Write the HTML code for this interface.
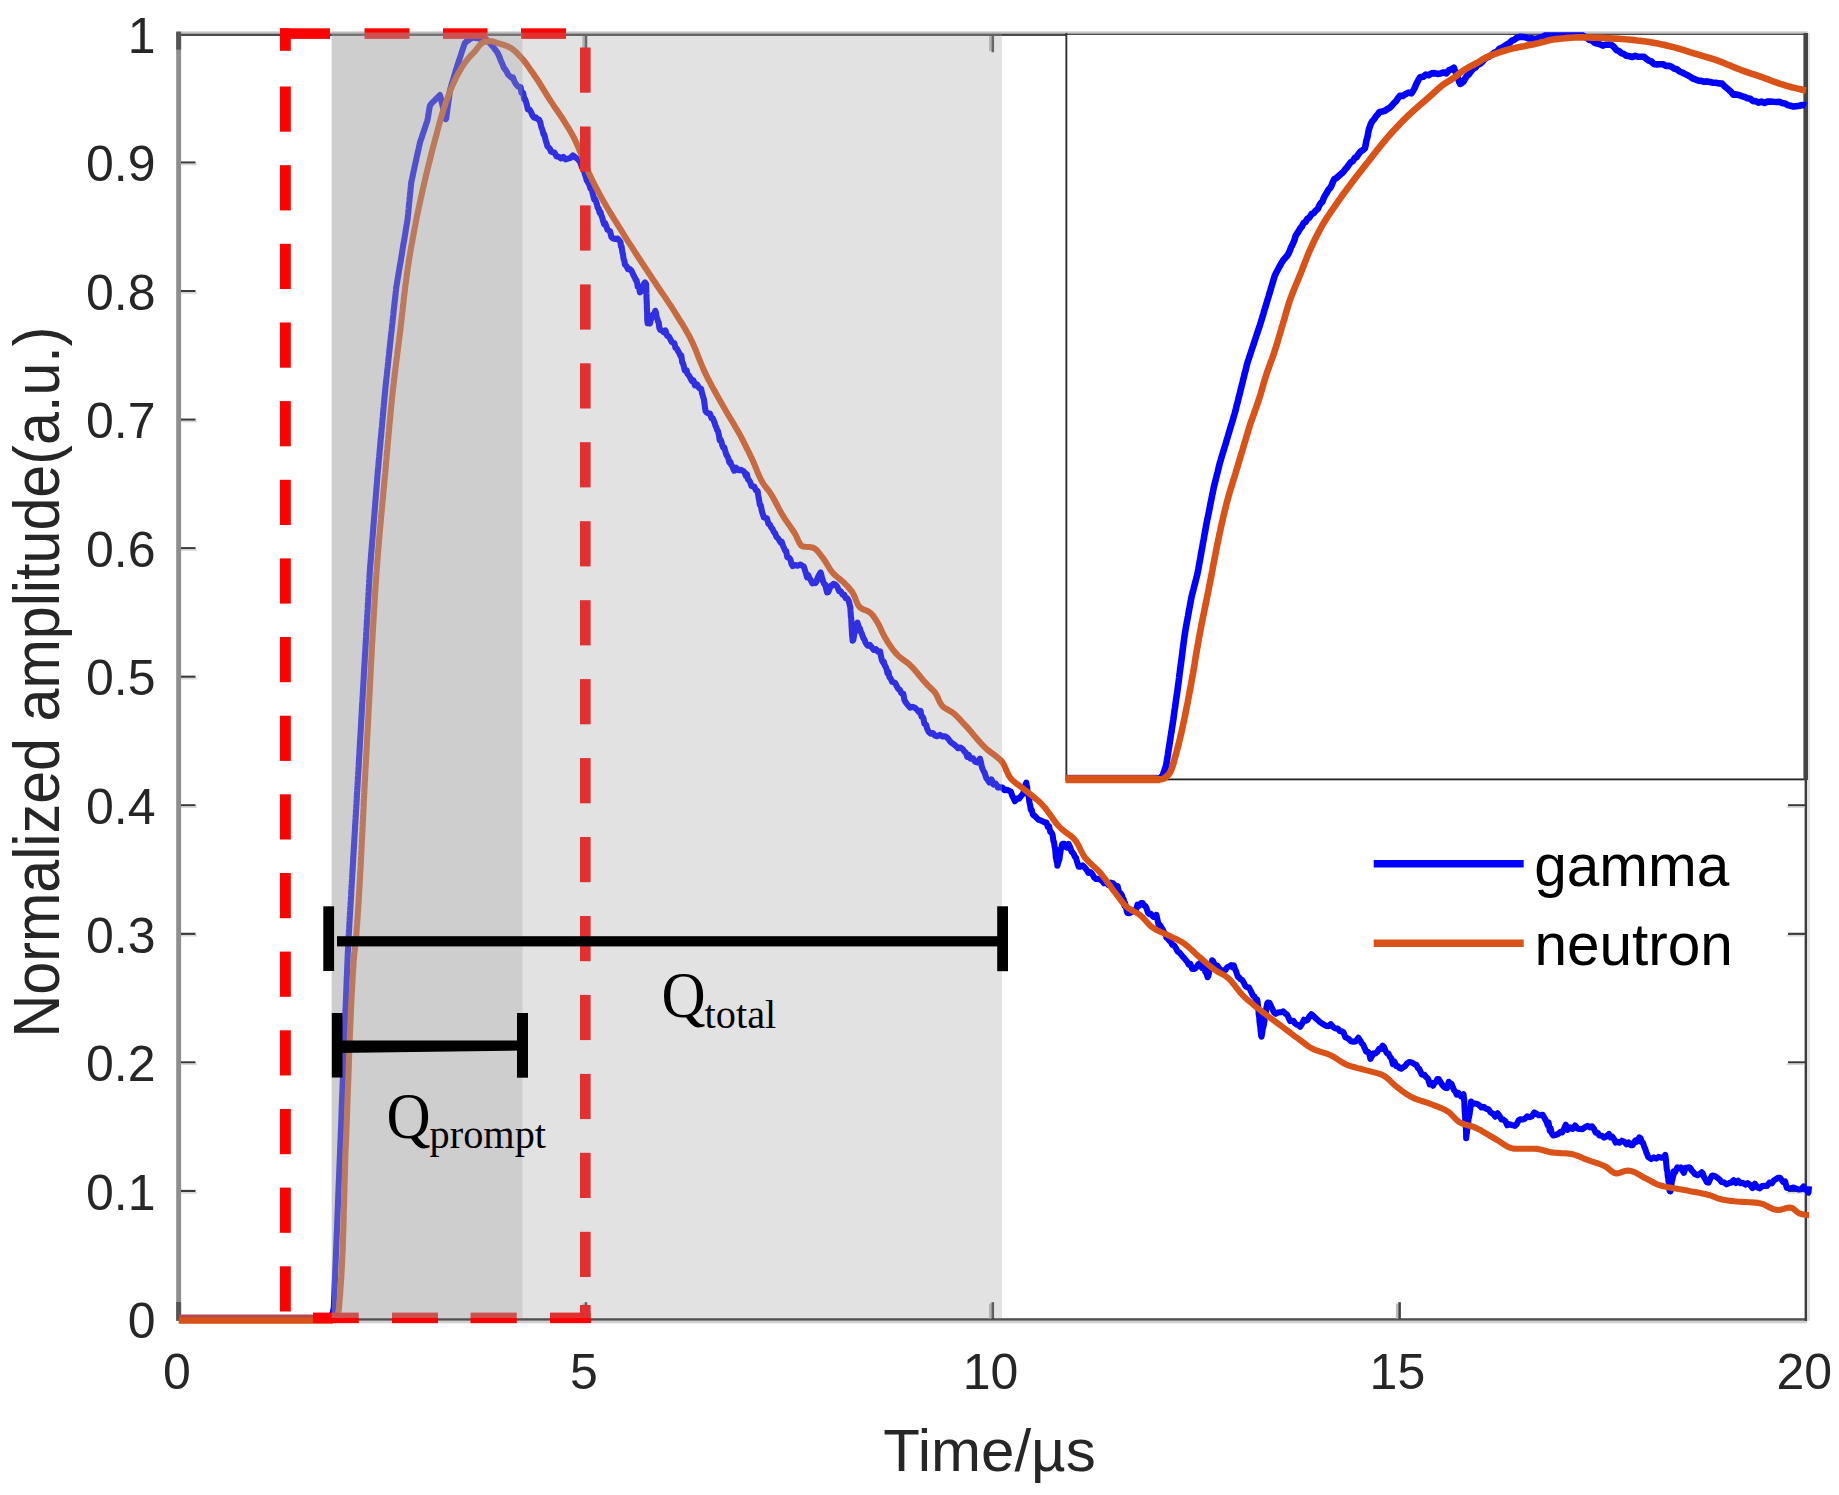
<!DOCTYPE html>
<html lang="en"><head><meta charset="utf-8"><title>Pulse shapes</title>
<style>html,body{margin:0;padding:0;background:#fff;}svg{display:block;}</style></head>
<body>
<svg width="1839" height="1495" viewBox="0 0 1839 1495">
<rect x="0" y="0" width="1839" height="1495" fill="#ffffff"/>
<g id="axes">
<rect x="176.25" y="31.4" width="1631.25" height="2.5" fill="#c6c6c6"/>
<rect x="176.25" y="33.7" width="1631.25" height="2.3" fill="#4a4a4a"/>
<rect x="176.2" y="33" width="4.9" height="1287.70" fill="#8e8e8e"/>
<rect x="176.2" y="31.6" width="4.9" height="18" fill="#555555"/>
<rect x="176.2" y="1302" width="4.9" height="18.8" fill="#555555"/>
<rect x="178.75" y="1318.2" width="1628.45" height="2.6" fill="#505050"/>
<rect x="178.75" y="1320.8" width="1628.45" height="2.5" fill="#d0d0d0"/>
<rect x="1804.60" y="33" width="2.6" height="1287.90" fill="#3c3c3c"/>
<rect x="1807.20" y="33" width="2.6" height="1287.90" fill="#e2e2e2"/>
<rect x="181" y="1189.85" width="14.5" height="2.2" fill="#3a3a3a"/>
<rect x="181" y="1192.05" width="16" height="1.6" fill="#d8d8d8"/>
<rect x="1788.00" y="1189.85" width="17" height="2.2" fill="#3a3a3a"/>
<rect x="1786.50" y="1192.05" width="18" height="1.6" fill="#d8d8d8"/>
<rect x="181" y="1061.30" width="14.5" height="2.2" fill="#3a3a3a"/>
<rect x="181" y="1063.50" width="16" height="1.6" fill="#d8d8d8"/>
<rect x="1788.00" y="1061.30" width="17" height="2.2" fill="#3a3a3a"/>
<rect x="1786.50" y="1063.50" width="18" height="1.6" fill="#d8d8d8"/>
<rect x="181" y="932.75" width="14.5" height="2.2" fill="#3a3a3a"/>
<rect x="181" y="934.95" width="16" height="1.6" fill="#d8d8d8"/>
<rect x="1788.00" y="932.75" width="17" height="2.2" fill="#3a3a3a"/>
<rect x="1786.50" y="934.95" width="18" height="1.6" fill="#d8d8d8"/>
<rect x="181" y="804.20" width="14.5" height="2.2" fill="#3a3a3a"/>
<rect x="181" y="806.40" width="16" height="1.6" fill="#d8d8d8"/>
<rect x="1788.00" y="804.20" width="17" height="2.2" fill="#3a3a3a"/>
<rect x="1786.50" y="806.40" width="18" height="1.6" fill="#d8d8d8"/>
<rect x="181" y="675.65" width="14.5" height="2.2" fill="#3a3a3a"/>
<rect x="181" y="677.85" width="16" height="1.6" fill="#d8d8d8"/>
<rect x="181" y="547.10" width="14.5" height="2.2" fill="#3a3a3a"/>
<rect x="181" y="549.30" width="16" height="1.6" fill="#d8d8d8"/>
<rect x="181" y="418.55" width="14.5" height="2.2" fill="#3a3a3a"/>
<rect x="181" y="420.75" width="16" height="1.6" fill="#d8d8d8"/>
<rect x="181" y="290.00" width="14.5" height="2.2" fill="#3a3a3a"/>
<rect x="181" y="292.20" width="16" height="1.6" fill="#d8d8d8"/>
<rect x="181" y="161.45" width="14.5" height="2.2" fill="#3a3a3a"/>
<rect x="181" y="163.65" width="16" height="1.6" fill="#d8d8d8"/>
<rect x="582.26" y="1303.50" width="2.4" height="15" fill="#bdbdbd"/>
<rect x="584.66" y="1302.20" width="2.6" height="17" fill="#444"/>
<rect x="582.26" y="36" width="2.4" height="15" fill="#bdbdbd"/>
<rect x="584.66" y="36" width="2.6" height="16.3" fill="#505050"/>
<rect x="989.07" y="1303.50" width="2.4" height="15" fill="#bdbdbd"/>
<rect x="991.48" y="1302.20" width="2.6" height="17" fill="#444"/>
<rect x="989.07" y="36" width="2.4" height="15" fill="#bdbdbd"/>
<rect x="991.48" y="36" width="2.6" height="16.3" fill="#505050"/>
<rect x="1395.89" y="1303.50" width="2.4" height="15" fill="#bdbdbd"/>
<rect x="1398.29" y="1302.20" width="2.6" height="17" fill="#444"/>
</g>
<g font-family="'Liberation Sans', Arial, sans-serif" font-size="50" fill="#262626">
<text x="155.5" y="1338.1" text-anchor="end">0</text>
<text x="155.5" y="1209.5" text-anchor="end">0.1</text>
<text x="155.5" y="1081.0" text-anchor="end">0.2</text>
<text x="155.5" y="952.5" text-anchor="end">0.3</text>
<text x="155.5" y="823.9" text-anchor="end">0.4</text>
<text x="155.5" y="695.4" text-anchor="end">0.5</text>
<text x="155.5" y="566.8" text-anchor="end">0.6</text>
<text x="155.5" y="438.3" text-anchor="end">0.7</text>
<text x="155.5" y="309.7" text-anchor="end">0.8</text>
<text x="155.5" y="181.1" text-anchor="end">0.9</text>
<text x="155.5" y="52.6" text-anchor="end">1</text>
<text x="176.9" y="1388.8" text-anchor="middle">0</text>
<text x="583.8" y="1388.8" text-anchor="middle">5</text>
<text x="990.6" y="1388.8" text-anchor="middle">10</text>
<text x="1397.4" y="1388.8" text-anchor="middle">15</text>
<text x="1804.2" y="1388.8" text-anchor="middle">20</text>
</g>
<text font-family="'Liberation Sans', Arial, sans-serif" font-size="60" fill="#262626" x="989.5" y="1470.6" text-anchor="middle">Time/µs</text>
<text font-family="'Liberation Sans', Arial, sans-serif" font-size="59" fill="#262626" transform="translate(58.7 682.0) rotate(-90) scale(1.004 1.10)" text-anchor="middle">Normalized amplitude(a.u.)</text>
<path d="M179 1317.6 L330 1317.6" stroke="#b24850" stroke-width="6.1" fill="none"/>
<path d="M328.0 1318.0 L330.2 1316.9 L331.7 1315.0 L332.7 1312.7 L333.3 1310.3 L333.8 1307.8 L333.9 1305.4 L334.0 1302.9 L334.1 1300.4 L334.2 1297.9 L334.3 1295.4 L334.4 1292.9 L334.5 1290.4 L334.6 1287.9 L334.7 1285.4 L334.8 1282.9 L334.9 1280.4 L335.0 1277.9 L335.1 1275.4 L335.2 1272.9 L335.3 1270.4 L335.4 1267.9 L335.5 1265.4 L335.6 1262.9 L335.7 1260.4 L335.8 1257.9 L335.9 1255.4 L336.0 1252.9 L336.1 1250.4 L336.2 1247.9 L336.3 1245.4 L336.4 1242.9 L336.5 1240.4 L336.6 1237.9 L336.7 1235.4 L336.8 1232.9 L336.9 1230.4 L337.0 1227.9 L337.1 1225.4 L337.2 1222.9 L337.3 1220.4 L337.4 1217.9 L337.5 1215.4 L337.6 1212.9 L337.7 1210.4 L337.8 1207.9 L337.9 1205.4 L338.0 1202.9 L338.1 1200.4 L338.2 1197.9 L338.3 1195.4 L338.4 1192.9 L338.5 1190.4 L338.6 1187.9 L338.7 1185.4 L338.8 1182.9 L338.9 1180.5 L339.0 1178.0 L339.1 1175.5 L339.2 1173.0 L339.3 1170.5 L339.4 1168.0 L339.5 1165.5 L339.6 1163.0 L339.7 1160.5 L339.8 1158.0 L339.9 1155.5 L340.0 1153.0 L340.1 1150.5 L340.2 1148.0 L340.3 1145.5 L340.4 1143.0 L340.5 1140.5 L340.6 1138.0 L340.7 1135.5 L340.8 1133.0 L340.9 1130.5 L341.0 1128.0 L341.1 1125.5 L341.2 1123.0 L341.3 1120.5 L341.4 1118.0 L341.5 1115.5 L341.5 1113.0 L341.6 1110.5 L341.7 1108.0 L341.8 1105.5 L341.9 1103.0 L342.0 1100.5 L342.1 1098.0 L342.2 1095.5 L342.3 1093.0 L342.4 1090.5 L342.5 1088.0 L342.6 1085.5 L342.7 1083.0 L342.8 1080.5 L342.9 1078.0 L343.0 1075.5 L343.1 1073.0 L343.2 1070.5 L343.3 1068.0 L343.4 1065.5 L343.5 1063.0 L343.6 1060.5 L343.7 1058.0 L343.8 1055.5 L343.9 1053.0 L344.0 1050.6 L344.1 1048.1 L344.2 1045.6 L344.3 1043.1 L344.4 1040.6 L344.5 1038.1 L344.6 1035.6 L344.7 1033.1 L344.8 1030.6 L344.9 1028.1 L345.0 1025.6 L345.0 1023.1 L345.1 1020.6 L345.2 1018.1 L345.3 1015.6 L345.4 1013.1 L345.5 1010.6 L345.6 1008.1 L345.7 1005.6 L345.8 1003.1 L345.9 1000.6 L346.0 998.1 L346.1 995.6 L346.2 993.1 L346.3 990.6 L346.4 988.1 L346.5 985.6 L346.6 983.1 L346.7 980.6 L346.8 978.1 L346.9 975.6 L347.0 973.1 L347.1 970.6 L347.2 968.1 L347.3 965.6 L347.4 963.1 L347.5 960.6 L347.6 958.1 L347.7 955.6 L347.8 953.1 L348.0 950.6 L348.1 948.1 L348.2 945.6 L348.3 943.1 L348.5 940.6 L348.6 938.1 L348.7 935.7 L348.9 933.2 L349.0 930.7 L349.2 928.2 L349.3 925.7 L349.4 923.2 L349.6 920.7 L349.7 918.2 L349.9 915.7 L350.0 913.2 L350.2 910.7 L350.3 908.2 L350.5 905.7 L350.6 903.2 L350.8 900.7 L350.9 898.2 L351.1 895.7 L351.2 893.2 L351.3 890.7 L351.5 888.2 L351.6 885.7 L351.8 883.2 L351.9 880.7 L352.1 878.2 L352.2 875.8 L352.4 873.3 L352.5 870.8 L352.7 868.3 L352.8 865.8 L353.0 863.3 L353.1 860.8 L353.2 858.3 L353.4 855.8 L353.5 853.3 L353.7 850.8 L353.8 848.3 L354.0 845.8 L354.1 843.3 L354.3 840.8 L354.4 838.3 L354.6 835.8 L354.7 833.3 L354.9 830.8 L355.0 828.3 L355.1 825.8 L355.3 823.3 L355.4 820.8 L355.6 818.4 L355.7 815.9 L355.9 813.4 L356.0 810.9 L356.2 808.4 L356.3 805.9 L356.5 803.4 L356.6 800.9 L356.8 798.4 L356.9 795.9 L357.0 793.4 L357.2 790.9 L357.3 788.4 L357.5 785.9 L357.6 783.4 L357.8 780.9 L357.9 778.4 L358.1 775.9 L358.2 773.4 L358.4 770.9 L358.5 768.4 L358.7 765.9 L358.8 763.4 L358.9 760.9 L359.1 758.5 L359.2 756.0 L359.4 753.5 L359.5 751.0 L359.7 748.5 L359.8 746.0 L359.9 743.5 L360.1 741.0 L360.2 738.5 L360.4 736.0 L360.5 733.5 L360.7 731.0 L360.8 728.5 L360.9 726.0 L361.1 723.5 L361.2 721.0 L361.4 718.5 L361.5 716.0 L361.7 713.5 L361.8 711.0 L361.9 708.5 L362.1 706.0 L362.2 703.5 L362.4 701.0 L362.5 698.6 L362.7 696.1 L362.8 693.6 L362.9 691.1 L363.1 688.6 L363.2 686.1 L363.4 683.6 L363.5 681.1 L363.7 678.6 L363.8 676.1 L363.9 673.6 L364.1 671.1 L364.2 668.6 L364.4 666.1 L364.5 663.6 L364.7 661.1 L364.8 658.6 L364.9 656.1 L365.1 653.6 L365.2 651.1 L365.4 648.6 L365.5 646.1 L365.7 643.6 L365.8 641.1 L365.9 638.6 L366.1 636.2 L366.2 633.7 L366.4 631.2 L366.5 628.7 L366.7 626.2 L366.8 623.7 L366.9 621.2 L367.1 618.7 L367.2 616.2 L367.4 613.7 L367.5 611.2 L367.7 608.7 L367.8 606.2 L367.9 603.7 L368.1 601.2 L368.2 598.7 L368.4 596.2 L368.5 593.7 L368.7 591.2 L368.8 588.7 L368.9 586.2 L369.1 583.7 L369.2 581.2 L369.4 578.7 L369.5 576.3 L369.7 573.8 L369.8 571.3 L370.0 568.8 L370.2 566.3 L370.4 563.8 L370.6 561.3 L370.8 558.8 L371.0 556.3 L371.2 553.8 L371.4 551.3 L371.6 548.8 L371.8 546.3 L372.0 543.8 L372.2 541.4 L372.4 538.9 L372.6 536.4 L372.8 533.9 L373.0 531.4 L373.2 528.9 L373.4 526.4 L373.6 523.9 L373.8 521.4 L374.0 518.9 L374.2 516.4 L374.4 513.9 L374.6 511.5 L374.8 509.0 L375.0 506.5 L375.2 504.0 L375.4 501.5 L375.6 499.0 L375.8 496.5 L376.0 494.0 L376.2 491.5 L376.4 489.0 L376.6 486.5 L376.8 484.0 L377.0 481.5 L377.2 479.1 L377.4 476.6 L377.6 474.1 L377.8 471.6 L378.0 469.1 L378.3 466.6 L378.5 464.1 L378.7 461.6 L378.9 459.1 L379.2 456.6 L379.4 454.2 L379.6 451.7 L379.8 449.2 L380.1 446.7 L380.3 444.2 L380.5 441.7 L380.7 439.2 L381.0 436.7 L381.2 434.2 L381.4 431.7 L381.6 429.3 L381.9 426.8 L382.1 424.3 L382.3 421.8 L382.5 419.3 L382.8 416.8 L383.0 414.3 L383.2 411.8 L383.4 409.3 L383.7 406.8 L383.9 404.4 L384.1 401.9 L384.3 399.4 L384.6 396.9 L384.8 394.4 L385.0 391.9 L385.3 389.4 L385.5 386.9 L385.8 384.4 L386.1 382.0 L386.3 379.5 L386.6 377.0 L386.9 374.5 L387.1 372.0 L387.4 369.5 L387.7 367.0 L387.9 364.6 L388.2 362.1 L388.4 359.6 L388.7 357.1 L389.0 354.6 L389.2 352.1 L389.5 349.6 L389.8 347.2 L390.0 344.7 L390.3 342.2 L390.6 339.7 L390.8 337.2 L391.1 334.7 L391.4 332.2 L391.7 329.8 L391.9 327.3 L392.2 324.8 L392.5 322.3 L392.7 319.8 L393.0 317.3 L393.3 314.8 L393.5 312.4 L393.8 309.9 L394.1 307.4 L394.4 304.9 L394.6 302.4 L394.9 299.9 L395.2 297.5 L395.4 295.0 L395.7 292.5 L396.0 290.0 L396.2 287.5 L396.7 285.0 L397.1 282.6 L397.5 280.1 L397.9 277.6 L398.3 275.2 L398.7 272.7 L399.1 270.2 L399.5 267.8 L399.9 265.3 L400.4 262.8 L400.8 260.4 L401.2 257.9 L401.6 255.5 L402.0 253.0 L402.4 250.5 L402.8 248.1 L403.2 245.6 L403.6 243.1 L404.1 240.7 L404.5 238.2 L404.9 235.7 L405.3 233.3 L405.7 230.8 L406.1 228.3 L406.5 225.9 L406.9 223.4 L407.3 220.9 L407.7 218.4 L407.9 216.0 L408.2 213.5 L408.4 211.0 L408.7 208.5 L408.9 206.0 L409.1 203.5 L409.4 201.0 L409.6 198.5 L409.9 196.1 L410.1 193.6 L410.4 191.1 L410.6 188.6 L410.9 186.1 L411.1 183.6 L411.5 181.2 L412.1 178.7 L412.6 176.3 L413.1 173.8 L413.6 171.4 L414.2 168.9 L414.7 166.5 L415.2 164.0 L415.8 161.6 L416.3 159.2 L416.8 156.7 L417.4 154.3 L417.9 151.8 L418.5 149.4 L419.0 147.0 L419.6 144.5 L420.1 142.1 L420.9 139.7 L421.7 137.4 L422.5 135.0 L423.3 132.6 L424.1 130.2 L424.9 127.9 L425.7 125.5 L426.5 123.1 L427.3 120.7 L427.8 118.3 L428.2 115.8 L428.6 113.4 L429.0 110.9 L429.4 108.4 L429.8 106.0 L431.1 103.9 L432.8 102.2 L434.6 100.4 L436.4 98.6 L438.1 96.9 L439.9 95.1 L440.6 97.3 L441.1 99.7 L441.7 102.2 L442.3 104.6 L442.9 107.0 L443.5 109.5 L444.1 111.9 L444.6 114.3 L445.2 116.7 L445.8 119.2 L446.2 118.4 L446.5 115.9 L446.9 113.4 L447.2 110.9 L447.5 108.5 L447.9 106.0 L448.2 103.5 L448.5 101.0 L448.9 98.5 L449.2 96.1 L449.5 93.6 L449.9 91.1 L450.4 88.7 L451.1 86.3 L451.8 83.9 L452.6 81.5 L453.3 79.1 L454.0 76.7 L454.7 74.3 L455.4 71.9 L456.1 69.5 L456.9 67.1 L457.6 64.7 L458.4 62.4 L459.2 60.0 L460.0 57.6 L460.8 55.2 L461.5 52.9 L462.3 50.5 L463.1 48.1 L463.9 45.8 L464.7 43.4 L466.3 41.6 L468.4 40.2 L470.5 38.9 L472.6 37.5 L475.0 37.9 L477.5 38.3 L480.0 38.7 L482.4 39.2 L484.9 39.6 L487.3 40.0 L489.0 41.8 L490.5 43.8 L492.1 45.7 L493.7 47.7 L495.2 49.6 L496.8 51.6 L498.0 53.7 L499.0 56.0 L500.0 58.3 L501.0 61.2 L502.0 63.2 L503.0 65.6 L503.9 68.0 L504.9 69.0 L506.5 71.4 L508.1 74.5 L509.8 76.1 L511.4 77.7 L513.0 77.4 L514.6 81.9 L516.3 84.7 L517.9 86.3 L519.5 87.2 L520.6 87.1 L521.5 92.7 L522.4 93.6 L523.2 92.9 L524.1 99.0 L525.0 98.9 L525.9 101.5 L526.8 104.7 L527.8 109.5 L529.4 109.2 L531.0 112.0 L532.6 115.8 L534.2 117.6 L535.8 117.3 L537.4 119.0 L539.0 119.6 L540.3 122.4 L541.1 126.2 L541.9 128.6 L542.6 130.6 L543.4 134.1 L544.2 134.2 L545.0 137.5 L545.8 140.9 L546.6 143.1 L547.4 146.1 L548.6 147.4 L549.8 148.6 L551.0 151.7 L552.3 152.1 L554.4 152.5 L556.6 156.5 L558.8 156.8 L561.1 158.4 L563.3 156.9 L565.6 159.4 L568.0 158.6 L570.5 157.8 L572.9 155.5 L575.4 157.5 L577.7 159.0 L578.8 160.5 L579.9 161.5 L581.0 164.5 L582.1 167.7 L583.1 165.5 L584.0 171.2 L585.0 174.4 L585.9 176.9 L586.8 180.5 L587.8 182.1 L588.7 183.4 L589.6 185.7 L590.5 188.6 L591.5 189.2 L592.4 192.2 L593.3 195.8 L594.2 199.5 L595.1 199.1 L596.0 201.5 L596.9 204.2 L597.8 208.0 L598.7 208.6 L599.6 212.8 L600.5 212.0 L601.4 215.4 L602.3 217.7 L603.2 221.3 L604.1 224.0 L605.0 223.0 L606.2 225.9 L607.5 229.7 L608.8 230.5 L610.1 231.5 L611.4 237.0 L612.8 238.3 L615.2 239.0 L617.6 238.6 L619.9 241.3 L620.5 242.1 L621.0 246.3 L621.5 246.1 L621.9 248.6 L622.4 252.5 L622.9 253.7 L623.4 258.0 L623.9 259.9 L624.4 260.8 L624.9 264.5 L626.4 265.9 L628.1 269.3 L629.9 269.1 L631.7 271.1 L633.4 275.0 L635.1 278.2 L635.8 280.3 L636.5 280.2 L637.1 282.8 L637.8 286.9 L638.5 287.1 L639.2 288.4 L639.9 292.3 L641.1 291.3 L642.4 287.5 L643.7 284.3 L644.9 282.4 L646.0 283.8 L646.1 284.4 L646.2 287.8 L646.3 290.7 L646.4 293.7 L646.5 295.0 L646.5 298.6 L646.6 299.3 L646.7 302.5 L646.8 304.1 L646.9 309.4 L647.0 310.4 L647.1 312.0 L647.2 315.0 L647.2 317.6 L647.3 321.3 L647.4 320.8 L647.7 323.3 L648.8 321.9 L649.9 323.5 L651.0 319.2 L652.2 315.5 L653.3 314.4 L654.4 313.9 L655.3 310.8 L656.0 313.0 L656.7 317.5 L657.4 319.0 L658.1 321.6 L658.7 322.5 L659.4 328.0 L660.3 330.0 L662.0 330.4 L663.8 332.3 L665.5 330.6 L667.2 335.9 L668.9 336.6 L670.5 339.4 L671.7 341.9 L673.0 342.7 L674.3 343.1 L675.5 347.9 L676.8 348.6 L678.1 351.3 L679.3 353.1 L680.4 355.7 L681.3 355.5 L682.2 362.4 L683.1 363.5 L683.9 366.9 L684.8 370.4 L685.7 370.2 L686.6 370.2 L687.4 373.7 L688.9 375.3 L690.4 378.2 L691.9 381.0 L693.4 380.3 L694.9 385.3 L697.0 384.3 L699.1 388.0 L701.1 388.9 L701.6 391.1 L702.2 393.8 L702.8 395.6 L703.4 398.0 L703.9 399.0 L704.5 403.6 L705.1 408.5 L705.6 411.1 L706.6 412.4 L708.3 413.5 L709.9 413.6 L711.5 418.3 L712.9 418.4 L713.7 420.7 L714.6 422.8 L715.4 425.6 L716.3 427.3 L717.1 430.1 L718.0 431.2 L718.8 434.4 L719.7 440.2 L720.5 439.5 L721.4 441.6 L722.2 445.0 L723.2 447.5 L724.2 447.4 L725.2 450.9 L726.3 454.7 L727.3 456.1 L728.3 458.2 L729.3 462.3 L730.3 461.7 L731.3 465.0 L732.4 466.5 L734.2 470.7 L736.2 467.7 L738.4 470.2 L740.8 469.9 L743.3 471.0 L744.7 472.6 L745.8 475.9 L746.9 474.2 L748.0 479.5 L749.1 480.4 L750.2 482.1 L751.4 485.9 L752.5 486.3 L754.2 486.5 L756.0 490.5 L757.6 490.9 L758.1 494.5 L758.7 498.2 L759.2 500.6 L759.8 504.7 L760.3 504.8 L760.8 505.5 L761.4 509.0 L761.9 511.2 L762.5 513.3 L763.9 517.4 L765.4 518.0 L766.9 518.3 L768.4 523.8 L769.9 524.7 L771.2 527.4 L772.6 529.2 L773.9 532.0 L775.2 533.4 L776.5 537.1 L777.9 538.1 L779.2 540.2 L780.5 542.4 L781.8 542.0 L783.0 545.9 L784.1 548.1 L785.2 550.9 L786.2 551.1 L787.3 557.3 L788.4 557.6 L789.4 558.1 L790.5 559.7 L791.5 563.9 L792.8 566.1 L795.2 565.0 L797.7 565.7 L800.2 564.5 L802.6 565.9 L803.7 566.5 L804.8 569.6 L805.9 573.1 L807.1 577.5 L808.2 575.0 L809.3 578.0 L810.6 579.6 L812.4 583.4 L814.2 582.7 L815.5 583.1 L816.6 581.4 L817.6 577.9 L818.6 575.7 L819.6 574.0 L820.6 572.4 L821.5 575.6 L822.4 579.3 L823.4 582.3 L824.3 584.2 L825.2 584.5 L826.1 588.5 L827.1 592.5 L828.2 592.1 L829.4 589.1 L830.6 585.8 L831.9 585.6 L833.5 583.8 L835.4 584.6 L837.3 586.7 L839.2 591.2 L840.9 591.5 L842.5 594.6 L844.1 594.5 L845.6 598.2 L847.2 598.2 L848.7 600.7 L850.0 606.2 L850.2 606.5 L850.4 607.3 L850.5 610.4 L850.7 613.4 L850.9 617.0 L851.0 617.3 L851.2 618.2 L851.4 622.6 L851.5 625.5 L851.7 628.1 L851.9 632.1 L852.0 633.3 L852.2 636.5 L852.4 636.5 L852.6 640.7 L853.3 639.9 L854.0 635.8 L854.7 632.7 L855.4 630.2 L856.0 629.9 L856.7 624.0 L857.4 622.6 L858.3 625.2 L859.2 627.9 L860.0 628.7 L860.9 632.0 L861.8 633.6 L862.7 636.4 L863.5 638.4 L864.4 639.5 L865.7 643.0 L867.7 645.6 L869.7 644.8 L871.7 647.2 L873.7 649.9 L875.8 649.0 L878.0 651.7 L880.1 651.4 L881.0 656.5 L882.0 660.4 L882.9 662.3 L883.8 661.7 L884.7 665.3 L885.7 666.8 L886.6 669.1 L887.5 673.3 L888.5 671.9 L889.4 677.3 L890.5 678.1 L892.1 681.9 L893.6 682.3 L895.2 683.1 L896.8 686.3 L898.3 688.9 L899.9 689.9 L901.0 692.7 L902.2 693.6 L903.3 693.8 L904.4 700.0 L905.5 701.9 L906.6 703.5 L908.0 705.3 L910.2 707.7 L912.5 706.9 L914.7 707.7 L916.9 709.5 L919.2 712.4 L920.6 710.9 L921.5 716.6 L922.4 716.5 L923.4 718.2 L924.3 723.6 L925.2 724.2 L926.2 725.0 L927.1 728.5 L928.7 732.0 L930.7 733.7 L932.8 733.0 L934.9 735.5 L937.4 736.2 L939.8 734.8 L942.3 736.4 L944.8 736.2 L946.6 737.2 L948.4 739.0 L950.2 741.5 L951.9 743.2 L953.7 744.2 L955.6 745.8 L958.1 748.2 L960.6 747.5 L962.8 749.1 L964.3 751.5 L965.8 752.7 L967.3 756.9 L968.8 754.9 L970.5 758.7 L972.9 758.2 L975.2 761.9 L977.5 762.5 L979.9 758.7 L980.9 762.2 L981.8 766.6 L982.7 769.1 L983.7 771.4 L984.6 772.6 L985.5 775.6 L986.4 778.2 L987.4 779.6 L989.4 782.5 L991.5 779.5 L993.6 784.5 L995.8 783.6 L997.9 787.5 L1000.1 787.2 L1002.3 787.5 L1004.6 790.3 L1006.8 789.7 L1009.0 790.8 L1010.8 791.6 L1012.2 795.7 L1013.6 798.5 L1014.9 801.2 L1017.0 798.5 L1019.1 798.6 L1021.2 795.9 L1022.8 794.0 L1023.5 792.5 L1024.2 790.7 L1024.9 786.5 L1025.6 784.3 L1026.3 782.6 L1026.7 785.4 L1027.1 786.6 L1027.5 791.6 L1027.9 792.2 L1028.4 795.8 L1028.8 796.6 L1029.2 800.6 L1029.6 803.1 L1030.0 804.5 L1030.9 810.0 L1031.9 810.1 L1032.8 814.3 L1033.7 815.6 L1034.7 815.8 L1036.4 817.7 L1038.6 819.9 L1040.9 820.5 L1043.1 821.6 L1045.2 822.5 L1046.5 822.6 L1047.8 826.8 L1049.1 826.4 L1050.3 831.9 L1051.6 832.6 L1052.6 834.9 L1053.0 838.0 L1053.4 841.1 L1053.8 841.3 L1054.2 843.4 L1054.6 846.8 L1055.0 848.0 L1055.4 851.8 L1055.8 857.6 L1056.2 856.6 L1056.6 861.3 L1057.0 861.2 L1057.4 865.8 L1057.8 864.2 L1058.4 862.1 L1058.9 860.5 L1059.4 859.6 L1059.9 855.1 L1060.4 852.6 L1060.9 848.7 L1061.4 848.3 L1062.0 844.7 L1062.5 843.7 L1064.5 843.8 L1066.6 847.5 L1068.6 844.0 L1070.4 847.9 L1071.5 851.7 L1072.6 852.3 L1073.7 854.0 L1074.9 856.9 L1076.0 857.7 L1077.1 861.9 L1078.7 866.7 L1080.7 866.6 L1082.6 865.3 L1084.5 867.2 L1086.4 869.4 L1088.3 872.8 L1090.3 872.1 L1092.2 873.8 L1094.1 877.4 L1096.1 879.0 L1098.0 878.9 L1100.0 879.5 L1101.9 880.5 L1103.9 883.2 L1106.0 881.8 L1108.5 885.1 L1110.9 882.7 L1113.3 883.5 L1115.3 885.6 L1116.5 886.9 L1117.6 886.2 L1118.7 891.0 L1119.8 893.6 L1120.9 893.4 L1122.0 895.4 L1122.9 898.8 L1123.7 899.2 L1124.4 905.6 L1125.1 903.0 L1125.9 907.0 L1126.6 910.5 L1127.3 913.0 L1129.3 913.1 L1131.5 912.1 L1133.7 910.3 L1135.8 910.7 L1137.5 904.7 L1139.3 905.7 L1141.1 903.0 L1142.8 903.1 L1144.0 905.4 L1145.3 906.0 L1146.6 908.5 L1147.9 912.5 L1149.2 914.1 L1150.9 913.9 L1153.3 916.8 L1155.3 917.4 L1156.4 914.8 L1157.4 919.4 L1158.5 924.5 L1159.5 924.5 L1160.6 926.1 L1161.6 927.8 L1162.7 929.6 L1164.0 932.2 L1165.3 933.9 L1166.5 937.7 L1167.8 938.4 L1169.1 940.5 L1170.6 941.5 L1172.3 944.8 L1174.1 945.4 L1175.9 948.1 L1177.6 951.5 L1179.4 952.4 L1181.0 954.5 L1182.5 956.3 L1184.0 957.9 L1185.5 959.7 L1187.0 961.4 L1188.7 964.7 L1190.4 964.0 L1192.2 968.9 L1194.0 969.0 L1195.6 968.2 L1197.0 966.4 L1198.4 964.1 L1199.7 963.1 L1200.9 963.4 L1202.0 968.0 L1203.1 967.8 L1204.3 968.1 L1205.4 972.3 L1206.5 972.9 L1207.6 977.2 L1208.2 976.2 L1208.9 973.3 L1209.5 968.3 L1210.1 966.6 L1210.8 967.5 L1211.4 963.2 L1212.1 960.3 L1213.0 960.8 L1214.5 964.6 L1215.9 965.2 L1217.4 965.7 L1218.9 968.0 L1220.4 970.4 L1221.8 970.8 L1223.5 970.2 L1225.4 970.0 L1227.3 967.1 L1229.2 966.6 L1231.0 965.2 L1232.7 967.3 L1233.8 965.4 L1234.8 968.6 L1235.9 970.9 L1236.9 973.9 L1238.0 977.0 L1239.0 977.2 L1240.1 979.0 L1241.9 979.8 L1243.7 982.4 L1245.4 986.1 L1247.2 987.2 L1249.0 987.6 L1250.5 990.4 L1251.8 993.1 L1253.1 995.8 L1254.4 996.5 L1255.7 999.1 L1257.0 999.2 L1257.7 1002.4 L1257.9 1008.5 L1258.2 1006.1 L1258.5 1011.0 L1258.7 1014.2 L1259.0 1015.9 L1259.3 1017.8 L1259.5 1021.3 L1259.8 1023.8 L1260.1 1026.2 L1260.3 1026.4 L1260.6 1031.1 L1260.8 1032.7 L1261.1 1035.5 L1261.5 1036.6 L1261.9 1034.6 L1262.3 1032.5 L1262.8 1028.2 L1263.2 1027.6 L1263.7 1025.5 L1264.1 1023.0 L1264.5 1020.9 L1265.0 1016.4 L1265.4 1013.9 L1265.9 1012.7 L1266.3 1007.4 L1266.7 1007.0 L1267.2 1003.6 L1267.9 1002.6 L1269.4 1002.8 L1270.9 1005.9 L1272.4 1009.0 L1273.9 1012.2 L1275.7 1013.8 L1278.2 1012.4 L1280.7 1012.3 L1283.2 1011.4 L1285.4 1013.6 L1287.0 1014.6 L1288.6 1017.7 L1290.2 1021.1 L1291.8 1020.7 L1293.4 1020.7 L1295.0 1023.4 L1296.6 1024.6 L1298.4 1025.2 L1300.2 1026.7 L1302.1 1023.6 L1303.9 1019.7 L1305.8 1020.8 L1307.6 1019.9 L1309.5 1016.2 L1311.3 1014.2 L1313.4 1015.9 L1315.5 1018.1 L1317.6 1019.9 L1319.8 1022.0 L1321.9 1023.3 L1324.0 1024.6 L1326.2 1026.0 L1328.5 1026.1 L1330.8 1024.2 L1333.1 1027.0 L1335.4 1028.5 L1337.7 1028.6 L1340.0 1031.2 L1341.8 1031.3 L1343.6 1032.4 L1345.3 1037.2 L1347.1 1038.0 L1348.9 1039.1 L1350.9 1041.3 L1353.4 1041.8 L1355.8 1041.2 L1358.3 1037.8 L1360.5 1041.0 L1361.9 1043.4 L1363.3 1044.8 L1364.7 1048.3 L1366.2 1051.7 L1367.6 1051.6 L1369.0 1052.8 L1370.4 1058.9 L1372.0 1056.2 L1373.8 1053.4 L1375.5 1053.5 L1377.3 1052.0 L1379.1 1048.8 L1380.8 1048.9 L1382.6 1045.7 L1384.1 1047.2 L1385.5 1050.6 L1387.0 1053.4 L1388.5 1053.6 L1389.9 1056.9 L1391.4 1058.4 L1392.9 1064.2 L1394.5 1061.5 L1396.2 1066.1 L1397.8 1066.1 L1399.4 1067.9 L1401.2 1068.7 L1403.2 1067.3 L1405.1 1066.2 L1407.0 1063.3 L1409.3 1062.0 L1411.8 1062.4 L1414.3 1064.1 L1416.5 1064.9 L1417.9 1068.1 L1419.2 1068.9 L1420.6 1071.9 L1421.9 1074.6 L1423.2 1074.9 L1424.6 1074.9 L1426.2 1077.2 L1428.0 1078.6 L1429.7 1084.3 L1431.5 1082.9 L1433.1 1085.7 L1434.5 1082.8 L1435.9 1082.1 L1437.3 1079.1 L1438.7 1079.1 L1440.0 1081.1 L1441.4 1083.5 L1442.8 1085.7 L1444.2 1086.9 L1445.7 1087.9 L1447.2 1088.1 L1448.8 1081.8 L1450.3 1083.3 L1451.6 1084.0 L1452.9 1087.5 L1454.2 1090.5 L1455.4 1091.5 L1456.7 1094.7 L1458.5 1092.9 L1461.0 1096.4 L1463.5 1094.2 L1463.9 1098.0 L1464.0 1100.0 L1464.2 1098.9 L1464.4 1103.7 L1464.5 1107.5 L1464.7 1111.7 L1464.8 1112.6 L1465.0 1115.0 L1465.1 1115.4 L1465.3 1121.6 L1465.4 1124.5 L1465.6 1124.7 L1465.8 1126.9 L1465.9 1127.6 L1466.1 1133.3 L1466.2 1138.2 L1466.6 1133.8 L1467.0 1132.0 L1467.3 1128.6 L1467.7 1124.2 L1468.1 1124.7 L1468.5 1118.9 L1468.9 1117.8 L1469.2 1115.9 L1469.6 1114.2 L1470.0 1111.2 L1470.4 1108.7 L1470.8 1104.7 L1471.1 1101.5 L1472.8 1103.4 L1475.0 1103.6 L1477.2 1104.0 L1479.4 1105.3 L1481.6 1107.5 L1483.8 1106.9 L1486.0 1108.7 L1488.4 1109.2 L1490.7 1112.5 L1493.0 1113.7 L1495.3 1116.7 L1497.6 1113.2 L1499.5 1115.8 L1501.5 1119.5 L1503.4 1119.6 L1505.3 1121.1 L1507.2 1125.3 L1509.1 1124.3 L1511.1 1124.8 L1513.0 1125.4 L1514.9 1125.9 L1516.7 1124.2 L1518.6 1120.4 L1520.5 1119.2 L1522.4 1119.5 L1524.7 1118.8 L1527.1 1116.4 L1529.5 1117.2 L1531.8 1116.4 L1534.2 1112.5 L1536.6 1113.7 L1538.7 1115.2 L1540.8 1115.3 L1542.8 1114.8 L1544.8 1118.6 L1546.6 1121.7 L1547.6 1125.0 L1548.6 1122.4 L1549.7 1130.9 L1550.7 1128.3 L1551.7 1133.3 L1553.2 1135.4 L1555.7 1135.0 L1558.2 1133.9 L1560.5 1131.8 L1562.2 1132.3 L1564.0 1128.8 L1565.8 1124.7 L1567.6 1129.9 L1570.1 1127.3 L1572.6 1128.9 L1575.1 1125.5 L1577.6 1128.7 L1580.0 1129.0 L1582.5 1129.1 L1585.0 1127.2 L1587.5 1125.8 L1590.0 1127.3 L1591.9 1126.3 L1593.8 1128.6 L1595.7 1132.6 L1597.6 1132.8 L1599.4 1135.5 L1601.7 1135.7 L1604.1 1137.7 L1606.5 1136.3 L1609.0 1133.9 L1610.6 1137.4 L1612.3 1136.7 L1614.0 1139.1 L1615.7 1142.6 L1617.3 1141.7 L1619.5 1142.8 L1621.9 1140.7 L1624.3 1141.7 L1626.5 1144.2 L1628.5 1142.5 L1630.6 1145.1 L1632.7 1145.1 L1634.0 1142.7 L1635.4 1140.4 L1636.7 1141.8 L1638.0 1140.9 L1639.3 1137.4 L1640.6 1138.1 L1641.8 1142.1 L1643.0 1142.9 L1644.2 1146.6 L1645.0 1148.3 L1645.8 1150.7 L1646.6 1153.5 L1647.3 1154.3 L1648.1 1156.9 L1648.9 1157.5 L1651.2 1159.1 L1653.7 1157.4 L1656.2 1158.6 L1658.6 1156.9 L1661.0 1157.6 L1663.4 1157.4 L1665.3 1155.0 L1665.7 1158.2 L1666.0 1160.5 L1666.4 1165.2 L1666.7 1168.9 L1667.0 1170.3 L1667.4 1171.2 L1667.7 1176.0 L1668.1 1174.7 L1668.4 1181.0 L1668.7 1180.7 L1669.1 1180.4 L1669.4 1190.0 L1669.8 1191.1 L1670.1 1190.1 L1670.5 1191.3 L1670.9 1188.3 L1671.3 1186.3 L1671.7 1181.7 L1672.1 1180.3 L1672.5 1179.3 L1673.0 1176.5 L1673.4 1175.3 L1673.8 1171.4 L1675.0 1172.5 L1677.3 1167.4 L1679.3 1168.3 L1680.8 1167.5 L1682.3 1170.3 L1683.9 1172.8 L1685.4 1167.9 L1687.0 1167.9 L1688.6 1167.2 L1690.2 1167.8 L1691.9 1170.6 L1693.5 1172.3 L1695.1 1174.2 L1697.4 1175.1 L1699.7 1174.1 L1701.8 1172.2 L1703.0 1174.0 L1704.3 1177.7 L1705.5 1179.4 L1706.8 1182.2 L1708.6 1182.6 L1710.4 1178.5 L1712.1 1175.6 L1714.0 1175.8 L1715.9 1176.6 L1717.8 1178.1 L1719.7 1179.6 L1721.6 1182.0 L1724.1 1182.4 L1726.5 1184.3 L1729.0 1183.2 L1731.3 1182.5 L1733.6 1180.2 L1735.9 1182.9 L1738.2 1180.8 L1740.6 1183.3 L1742.9 1182.9 L1745.3 1184.6 L1747.7 1183.1 L1750.1 1184.9 L1752.5 1188.1 L1754.9 1183.6 L1757.4 1187.4 L1759.8 1188.3 L1762.2 1186.0 L1764.6 1185.8 L1767.1 1185.9 L1769.5 1182.7 L1771.9 1183.4 L1773.9 1180.3 L1776.0 1179.1 L1778.0 1177.8 L1780.0 1177.7 L1781.7 1180.0 L1783.4 1182.2 L1785.1 1181.5 L1786.8 1187.9 L1788.8 1188.1 L1791.2 1188.2 L1793.6 1187.5 L1796.0 1188.5 L1798.5 1189.5 L1801.0 1189.3 L1803.5 1186.5 L1806.0 1189.7 L1808.5 1192.6 L1809.0 1186.3" stroke="#0000ff" stroke-width="6.1" fill="none" stroke-linejoin="round" stroke-linecap="butt"/>
<path d="M178.75 1320.6 L333 1320.6" stroke="#d95319" stroke-width="6.1" fill="none"/>
<path d="M333.0 1320.5 L335.8 1319.2 L337.0 1316.8 L337.8 1313.7 L338.6 1310.8 L339.0 1307.8 L339.2 1304.9 L339.5 1301.9 L339.7 1299.0 L340.0 1296.0 L340.2 1293.1 L340.4 1290.1 L340.6 1287.1 L340.8 1284.2 L341.0 1281.2 L341.2 1278.2 L341.4 1275.2 L341.5 1272.2 L341.7 1269.3 L341.9 1266.3 L342.0 1263.3 L342.2 1260.3 L342.3 1257.3 L342.4 1254.3 L342.6 1251.3 L342.7 1248.3 L342.8 1245.3 L342.9 1242.3 L343.0 1239.3 L343.1 1236.3 L343.2 1233.3 L343.3 1230.3 L343.4 1227.3 L343.5 1224.3 L343.6 1221.2 L343.7 1218.2 L343.7 1215.2 L343.8 1212.2 L343.9 1209.2 L344.0 1206.2 L344.1 1203.2 L344.1 1200.1 L344.2 1197.1 L344.3 1194.1 L344.4 1191.1 L344.4 1188.1 L344.5 1185.1 L344.6 1182.0 L344.7 1179.0 L344.8 1176.0 L344.9 1173.0 L344.9 1170.0 L345.0 1167.0 L345.1 1164.0 L345.2 1160.9 L345.3 1157.9 L345.4 1154.9 L345.5 1151.9 L345.6 1148.9 L345.8 1145.9 L345.9 1142.9 L346.0 1139.9 L346.1 1136.9 L346.3 1133.9 L346.4 1130.9 L346.5 1127.9 L346.6 1124.9 L346.7 1121.9 L346.9 1118.9 L347.0 1115.9 L347.1 1112.9 L347.2 1109.9 L347.3 1106.9 L347.4 1103.9 L347.5 1100.9 L347.6 1097.9 L347.7 1094.9 L347.8 1091.9 L347.9 1088.9 L348.1 1085.9 L348.2 1082.9 L348.3 1079.9 L348.4 1076.9 L348.5 1073.9 L348.6 1070.9 L348.7 1067.9 L348.8 1064.9 L348.9 1061.9 L349.0 1058.9 L349.1 1056.0 L349.2 1053.0 L349.3 1050.0 L349.4 1047.0 L349.6 1044.0 L349.7 1041.0 L349.8 1038.0 L349.9 1035.0 L350.0 1032.0 L350.2 1029.0 L350.3 1026.0 L350.4 1023.0 L350.5 1020.0 L350.7 1017.0 L350.8 1014.0 L350.9 1011.0 L351.1 1008.0 L351.2 1005.0 L351.4 1002.0 L351.5 999.0 L351.6 996.0 L351.8 993.0 L352.0 990.0 L352.1 987.0 L352.3 984.0 L352.5 981.0 L352.6 978.0 L352.8 975.0 L353.0 972.1 L353.2 969.1 L353.4 966.1 L353.5 963.1 L353.7 960.1 L354.0 957.1 L354.2 954.1 L354.6 951.1 L354.9 948.2 L355.2 945.2 L355.6 942.2 L355.9 939.2 L356.2 936.2 L356.4 933.2 L356.6 930.2 L356.8 927.2 L357.1 924.3 L357.3 921.3 L357.5 918.3 L357.7 915.3 L357.9 912.3 L358.1 909.3 L358.3 906.3 L358.5 903.3 L358.7 900.3 L358.8 897.3 L359.0 894.3 L359.2 891.3 L359.4 888.3 L359.6 885.3 L359.7 882.4 L359.9 879.4 L360.1 876.4 L360.2 873.4 L360.4 870.4 L360.6 867.4 L360.7 864.4 L360.9 861.4 L361.0 858.4 L361.2 855.4 L361.3 852.4 L361.5 849.4 L361.6 846.4 L361.8 843.4 L361.9 840.4 L362.1 837.4 L362.2 834.4 L362.4 831.4 L362.5 828.4 L362.7 825.4 L362.8 822.4 L363.0 819.4 L363.1 816.4 L363.3 813.4 L363.4 810.4 L363.6 807.4 L363.7 804.4 L363.8 801.4 L364.0 798.4 L364.1 795.4 L364.3 792.4 L364.4 789.5 L364.6 786.5 L364.7 783.5 L364.9 780.5 L365.1 777.5 L365.2 774.5 L365.4 771.5 L365.5 768.5 L365.7 765.5 L365.9 762.5 L366.0 759.5 L366.2 756.5 L366.4 753.5 L366.5 750.5 L366.7 747.5 L366.9 744.5 L367.0 741.5 L367.2 738.5 L367.3 735.5 L367.5 732.5 L367.6 729.5 L367.8 726.5 L368.0 723.5 L368.1 720.5 L368.3 717.5 L368.4 714.5 L368.6 711.6 L368.7 708.6 L368.9 705.6 L369.1 702.6 L369.2 699.6 L369.4 696.6 L369.5 693.6 L369.7 690.6 L369.8 687.6 L370.0 684.6 L370.1 681.6 L370.3 678.6 L370.5 675.6 L370.6 672.6 L370.8 669.6 L370.9 666.6 L371.1 663.6 L371.2 660.6 L371.4 657.6 L371.6 654.6 L371.7 651.6 L371.9 648.6 L372.0 645.6 L372.2 642.6 L372.4 639.6 L372.5 636.6 L372.7 633.7 L372.9 630.7 L373.1 627.7 L373.2 624.7 L373.4 621.7 L373.6 618.7 L373.8 615.7 L373.9 612.7 L374.1 609.7 L374.3 606.7 L374.5 603.7 L374.7 600.7 L374.9 597.7 L375.0 594.7 L375.2 591.7 L375.4 588.7 L375.6 585.7 L375.8 582.8 L376.0 579.8 L376.2 576.8 L376.4 573.8 L376.7 570.8 L376.9 567.8 L377.1 564.8 L377.3 561.8 L377.5 558.8 L377.8 555.8 L378.0 552.8 L378.3 549.9 L378.5 546.9 L378.8 543.9 L379.0 540.9 L379.3 537.9 L379.5 534.9 L379.8 531.9 L380.1 528.9 L380.3 525.9 L380.6 523.0 L380.9 520.0 L381.1 517.0 L381.4 514.0 L381.7 511.0 L382.0 508.0 L382.2 505.0 L382.5 502.0 L382.8 499.1 L383.1 496.1 L383.3 493.1 L383.6 490.1 L383.9 487.1 L384.2 484.1 L384.4 481.1 L384.7 478.1 L385.0 475.2 L385.3 472.2 L385.5 469.2 L385.8 466.2 L386.0 463.2 L386.3 460.2 L386.6 457.2 L386.8 454.2 L387.1 451.2 L387.4 448.3 L387.6 445.3 L387.9 442.3 L388.2 439.3 L388.4 436.3 L388.7 433.3 L389.0 430.3 L389.2 427.3 L389.5 424.3 L389.8 421.4 L390.1 418.4 L390.4 415.4 L390.6 412.4 L390.9 409.4 L391.2 406.4 L391.5 403.4 L391.8 400.5 L392.1 397.5 L392.4 394.5 L392.8 391.5 L393.1 388.5 L393.4 385.5 L393.8 382.6 L394.1 379.6 L394.5 376.6 L394.8 373.6 L395.2 370.7 L395.6 367.7 L395.9 364.7 L396.3 361.7 L396.7 358.7 L397.1 355.8 L397.4 352.8 L397.8 349.8 L398.2 346.8 L398.6 343.9 L399.0 340.9 L399.3 337.9 L399.7 334.9 L400.1 332.0 L400.4 329.0 L400.8 326.0 L401.1 323.0 L401.5 320.0 L401.8 317.1 L402.1 314.1 L402.5 311.1 L402.8 308.1 L403.1 305.1 L403.5 302.1 L403.8 299.2 L404.2 296.2 L404.5 293.2 L404.9 290.2 L405.2 287.2 L405.6 284.3 L406.0 281.3 L406.4 278.3 L406.8 275.3 L407.2 272.4 L407.6 269.4 L408.0 266.4 L408.5 263.5 L408.9 260.5 L409.4 257.6 L409.9 254.6 L410.4 251.6 L410.9 248.7 L411.4 245.7 L412.0 242.8 L412.5 239.8 L413.0 236.9 L413.6 233.9 L414.1 231.0 L414.7 228.0 L415.3 225.1 L415.8 222.1 L416.4 219.2 L417.0 216.2 L417.6 213.3 L418.2 210.4 L418.8 207.4 L419.5 204.5 L420.1 201.6 L420.7 198.6 L421.4 195.7 L422.1 192.8 L422.7 189.8 L423.4 186.9 L424.1 184.0 L424.7 181.1 L425.4 178.2 L426.1 175.2 L426.8 172.3 L427.5 169.4 L428.2 166.5 L428.9 163.6 L429.7 160.7 L430.4 157.8 L431.1 154.8 L431.9 151.9 L432.6 149.0 L433.4 146.1 L434.1 143.2 L434.9 140.3 L435.7 137.4 L436.5 134.5 L437.2 131.6 L438.0 128.7 L438.8 125.8 L439.6 122.9 L440.4 120.0 L441.2 117.1 L442.1 114.3 L442.9 111.4 L443.8 108.5 L444.8 105.7 L445.7 102.9 L446.7 100.0 L447.8 97.2 L448.8 94.4 L449.9 91.6 L451.1 88.8 L452.2 86.0 L453.5 83.3 L454.7 80.6 L456.0 77.9 L457.4 75.2 L458.8 72.5 L460.3 69.9 L461.8 67.3 L463.4 64.8 L465.1 62.4 L466.9 60.0 L468.9 57.8 L470.9 55.5 L473.0 53.4 L475.1 51.2 L477.0 48.7 L479.0 46.0 L481.0 43.7 L483.3 42.2 L486.0 41.5 L489.1 41.0 L492.0 41.2 L494.9 42.1 L497.8 43.1 L500.7 44.0 L503.6 44.9 L506.5 45.9 L509.2 47.1 L511.7 48.5 L514.0 50.3 L516.3 52.4 L518.4 54.6 L520.5 56.8 L522.5 59.0 L524.4 61.3 L526.2 63.7 L528.0 66.1 L529.7 68.6 L531.4 71.1 L533.2 73.5 L534.8 76.0 L536.5 78.5 L538.2 81.0 L539.8 83.5 L541.4 86.1 L542.9 88.6 L544.5 91.2 L546.1 93.8 L547.7 96.3 L549.3 98.9 L550.9 101.4 L552.6 103.9 L554.2 106.4 L555.9 108.8 L557.6 111.3 L559.3 113.8 L561.0 116.3 L562.7 118.8 L564.3 121.3 L565.8 123.9 L567.4 126.4 L569.0 129.0 L570.5 131.6 L572.0 134.2 L573.4 136.8 L574.8 139.5 L576.0 142.2 L577.3 144.9 L578.4 147.7 L579.6 150.5 L580.7 153.2 L581.8 156.1 L582.9 158.9 L584.0 161.7 L585.1 164.4 L586.3 167.2 L587.5 169.9 L588.7 172.7 L590.0 175.4 L591.3 178.1 L592.6 180.8 L594.0 183.5 L595.3 186.2 L596.7 188.8 L598.1 191.5 L599.5 194.1 L601.0 196.7 L602.4 199.4 L603.9 202.0 L605.4 204.6 L606.9 207.2 L608.4 209.7 L610.0 212.3 L611.6 214.9 L613.1 217.4 L614.7 220.0 L616.3 222.5 L617.9 225.1 L619.5 227.6 L621.1 230.2 L622.6 232.7 L624.2 235.3 L625.8 237.8 L627.4 240.3 L629.0 242.9 L630.7 245.4 L632.3 247.9 L633.9 250.4 L635.5 253.0 L637.2 255.5 L638.8 258.0 L640.5 260.5 L642.1 263.0 L643.8 265.5 L645.4 268.0 L647.1 270.5 L648.7 273.0 L650.4 275.5 L652.0 278.0 L653.7 280.5 L655.4 283.0 L657.0 285.5 L658.7 288.0 L660.4 290.5 L662.1 292.9 L663.8 295.4 L665.5 297.9 L667.1 300.4 L668.8 302.9 L670.5 305.4 L672.1 307.9 L673.7 310.4 L675.3 313.0 L676.9 315.5 L678.5 318.1 L680.1 320.6 L681.7 323.2 L683.3 325.7 L684.8 328.3 L686.3 330.9 L687.8 333.5 L689.3 336.1 L690.6 338.8 L692.0 341.5 L693.2 344.2 L694.4 346.9 L695.6 349.7 L696.7 352.5 L697.8 355.3 L698.9 358.1 L700.0 360.9 L701.1 363.6 L702.3 366.4 L703.5 369.2 L704.7 371.9 L706.0 374.6 L707.3 377.3 L708.7 380.0 L710.1 382.6 L711.5 385.3 L712.9 387.9 L714.4 390.5 L715.8 393.2 L717.3 395.8 L718.8 398.4 L720.3 401.0 L721.7 403.6 L723.2 406.2 L724.7 408.8 L726.2 411.4 L727.7 414.0 L729.3 416.6 L730.8 419.2 L732.4 421.7 L733.9 424.3 L735.4 426.9 L736.9 429.5 L738.4 432.1 L739.9 434.7 L741.3 437.4 L742.7 440.0 L744.0 442.7 L745.4 445.4 L746.7 448.1 L748.1 450.8 L749.4 453.4 L750.7 456.2 L752.0 458.9 L753.2 461.6 L754.4 464.4 L755.6 467.2 L756.7 470.0 L757.8 472.8 L759.0 475.5 L760.3 478.2 L761.6 480.9 L763.1 483.4 L764.8 485.9 L766.7 488.2 L768.6 490.6 L770.3 493.0 L771.9 495.6 L773.4 498.2 L774.8 500.8 L776.2 503.5 L777.6 506.1 L779.0 508.8 L780.4 511.4 L781.9 514.0 L783.5 516.6 L785.1 519.1 L786.8 521.6 L788.5 524.1 L790.2 526.5 L791.9 529.0 L793.6 531.5 L795.2 534.0 L796.7 537.0 L798.0 540.2 L799.5 543.1 L801.1 545.4 L803.1 546.4 L805.9 546.8 L809.2 547.0 L812.2 547.4 L814.7 548.5 L816.9 550.4 L819.0 552.9 L821.0 555.5 L822.8 557.9 L824.6 560.3 L826.2 562.9 L827.8 565.5 L829.3 568.1 L831.0 570.6 L832.8 572.9 L834.9 575.0 L837.2 577.0 L839.5 578.9 L841.8 580.8 L844.1 582.8 L846.2 585.0 L848.3 587.2 L850.2 589.5 L852.1 591.8 L853.6 594.4 L854.9 597.3 L856.0 600.3 L857.2 603.2 L858.6 605.7 L860.3 607.7 L862.7 609.2 L865.7 610.3 L868.6 611.6 L870.9 613.3 L872.8 615.4 L874.6 617.9 L876.3 620.5 L877.9 623.1 L879.3 625.7 L880.6 628.5 L881.8 631.2 L883.1 633.9 L884.5 636.6 L886.0 639.2 L887.6 641.8 L889.2 644.3 L890.9 646.8 L892.7 649.3 L894.5 651.6 L896.5 653.9 L898.5 656.0 L900.8 657.9 L903.2 659.7 L905.7 661.5 L908.1 663.3 L910.3 665.3 L912.4 667.4 L914.4 669.6 L916.4 671.9 L918.3 674.2 L920.2 676.5 L922.1 678.9 L924.1 681.2 L926.1 683.4 L928.1 685.6 L930.3 687.7 L932.5 689.8 L934.6 691.9 L936.2 694.4 L937.6 697.2 L938.8 700.0 L940.2 702.8 L941.7 705.3 L943.6 707.2 L946.1 708.8 L948.9 710.3 L951.5 711.8 L953.9 713.6 L956.1 715.6 L958.2 717.7 L960.3 719.9 L962.4 722.2 L964.4 724.4 L966.5 726.6 L968.5 728.8 L970.4 731.1 L972.4 733.4 L974.3 735.7 L976.3 738.0 L978.2 740.2 L980.2 742.5 L982.2 744.7 L984.3 746.8 L986.5 748.9 L988.8 750.8 L991.3 752.7 L993.8 754.5 L996.2 756.4 L998.5 758.3 L1000.7 760.3 L1002.5 762.5 L1004.0 765.0 L1005.3 767.7 L1006.5 770.6 L1007.7 773.4 L1009.1 776.1 L1010.7 778.4 L1012.7 780.5 L1015.0 782.4 L1017.4 784.3 L1019.9 786.1 L1022.4 787.9 L1024.8 789.8 L1027.1 791.7 L1029.4 793.6 L1031.8 795.5 L1034.1 797.4 L1036.4 799.3 L1038.7 801.3 L1040.9 803.3 L1042.9 805.5 L1044.9 807.7 L1046.7 810.0 L1048.5 812.5 L1050.3 814.9 L1052.0 817.4 L1053.8 819.9 L1055.6 822.3 L1057.4 824.7 L1059.4 826.9 L1061.5 828.9 L1063.9 830.9 L1066.3 832.7 L1068.8 834.5 L1071.2 836.3 L1073.4 838.3 L1075.4 840.5 L1077.0 842.9 L1078.5 845.5 L1079.8 848.2 L1081.2 851.0 L1082.6 853.7 L1084.1 856.3 L1085.9 858.6 L1087.8 860.8 L1090.0 862.9 L1092.2 865.0 L1094.5 867.0 L1096.7 869.1 L1098.8 871.2 L1100.8 873.4 L1102.7 875.8 L1104.5 878.1 L1106.3 880.5 L1108.0 883.0 L1109.8 885.4 L1111.5 887.9 L1113.3 890.3 L1115.1 892.7 L1117.0 895.1 L1118.8 897.5 L1120.6 900.0 L1122.5 902.4 L1124.5 904.6 L1126.6 906.7 L1128.8 908.5 L1131.4 910.0 L1134.1 911.5 L1136.8 912.9 L1139.3 914.5 L1141.6 916.4 L1143.7 918.5 L1145.7 920.8 L1147.8 923.1 L1149.8 925.3 L1152.1 927.2 L1154.5 928.8 L1157.1 930.2 L1159.8 931.5 L1162.6 932.7 L1165.4 934.0 L1168.1 935.3 L1170.8 936.6 L1173.6 937.9 L1176.3 939.1 L1179.0 940.5 L1181.6 941.9 L1184.1 943.5 L1186.4 945.3 L1188.7 947.2 L1191.0 949.2 L1193.2 951.3 L1195.4 953.4 L1197.6 955.4 L1199.9 957.4 L1202.2 959.4 L1204.4 961.4 L1206.7 963.3 L1209.0 965.3 L1211.3 967.2 L1213.7 969.0 L1216.1 970.7 L1218.7 972.3 L1221.4 973.7 L1224.1 975.2 L1226.5 976.8 L1228.8 978.6 L1230.8 980.7 L1232.8 983.0 L1234.7 985.4 L1236.5 987.8 L1238.4 990.2 L1240.3 992.6 L1242.3 994.8 L1244.4 996.9 L1246.6 998.9 L1248.9 1000.9 L1251.2 1002.8 L1253.5 1004.8 L1255.8 1006.7 L1258.2 1008.5 L1260.5 1010.4 L1262.9 1012.3 L1265.3 1014.1 L1267.7 1015.9 L1270.1 1017.7 L1272.5 1019.5 L1274.9 1021.2 L1277.3 1023.0 L1279.7 1024.8 L1282.1 1026.6 L1284.5 1028.4 L1286.9 1030.2 L1289.3 1032.0 L1291.7 1033.9 L1294.1 1035.7 L1296.5 1037.4 L1298.9 1039.2 L1301.3 1041.0 L1303.7 1042.8 L1306.2 1044.7 L1308.6 1046.5 L1311.1 1048.0 L1313.7 1049.3 L1316.5 1050.4 L1319.4 1051.4 L1322.3 1052.3 L1325.2 1053.2 L1328.0 1054.2 L1330.7 1055.3 L1333.4 1056.7 L1336.0 1058.3 L1338.5 1060.0 L1341.1 1061.6 L1343.6 1063.2 L1346.3 1064.5 L1349.0 1065.6 L1351.9 1066.5 L1354.7 1067.3 L1357.7 1068.1 L1360.6 1068.8 L1363.5 1069.6 L1366.4 1070.4 L1369.4 1071.1 L1372.4 1071.9 L1375.3 1072.6 L1378.2 1073.4 L1381.0 1074.4 L1383.6 1075.5 L1386.0 1077.1 L1388.3 1079.0 L1390.5 1081.1 L1392.7 1083.3 L1395.0 1085.4 L1397.3 1087.3 L1399.7 1089.1 L1402.1 1091.0 L1404.6 1092.7 L1407.1 1094.4 L1409.6 1096.0 L1412.2 1097.4 L1414.9 1098.6 L1417.7 1099.6 L1420.6 1100.6 L1423.5 1101.5 L1426.3 1102.4 L1429.2 1103.4 L1432.0 1104.5 L1434.8 1105.6 L1437.7 1106.7 L1440.5 1107.8 L1443.3 1109.0 L1445.9 1110.3 L1448.4 1111.8 L1450.7 1113.8 L1452.8 1116.0 L1454.9 1118.3 L1457.1 1120.4 L1459.4 1122.2 L1462.0 1123.4 L1464.8 1124.4 L1467.7 1125.2 L1470.7 1126.0 L1473.6 1126.9 L1476.3 1128.1 L1479.0 1129.4 L1481.6 1130.8 L1484.2 1132.3 L1486.8 1133.9 L1489.4 1135.5 L1492.0 1137.0 L1494.6 1138.5 L1497.2 1140.0 L1499.8 1141.7 L1502.5 1143.5 L1505.1 1145.2 L1507.8 1146.8 L1510.5 1147.9 L1513.3 1148.6 L1516.1 1148.8 L1519.0 1148.8 L1522.0 1148.8 L1525.0 1148.8 L1528.1 1148.8 L1531.2 1148.8 L1534.2 1148.8 L1537.1 1148.9 L1540.1 1149.4 L1543.0 1150.2 L1545.9 1151.0 L1548.8 1151.8 L1551.8 1152.4 L1554.7 1152.7 L1557.8 1152.9 L1560.8 1153.1 L1563.8 1153.2 L1566.8 1153.4 L1569.7 1153.7 L1572.6 1154.2 L1575.5 1155.1 L1578.3 1156.1 L1581.1 1157.3 L1583.9 1158.6 L1586.7 1159.7 L1589.5 1160.7 L1592.4 1161.6 L1595.3 1162.6 L1598.1 1163.5 L1600.9 1164.5 L1603.7 1165.7 L1606.4 1167.0 L1608.9 1169.0 L1611.3 1171.1 L1613.8 1172.8 L1616.5 1173.5 L1619.3 1173.0 L1622.2 1171.9 L1625.2 1170.9 L1628.0 1170.5 L1630.8 1170.9 L1633.6 1171.8 L1636.4 1173.1 L1639.1 1174.6 L1641.8 1176.2 L1644.5 1177.8 L1647.2 1179.1 L1649.9 1180.5 L1652.6 1182.0 L1655.2 1183.5 L1657.9 1184.6 L1660.7 1185.5 L1663.6 1186.2 L1666.5 1186.9 L1669.5 1187.4 L1672.4 1188.0 L1675.4 1188.5 L1678.4 1189.0 L1681.4 1189.5 L1684.3 1190.1 L1687.3 1190.6 L1690.3 1191.2 L1693.2 1191.7 L1696.2 1192.2 L1699.1 1192.8 L1702.1 1193.4 L1705.0 1194.0 L1707.9 1194.7 L1710.8 1195.5 L1713.6 1196.6 L1716.4 1197.8 L1719.2 1198.8 L1722.1 1199.5 L1725.0 1200.1 L1728.0 1200.5 L1731.0 1200.9 L1734.0 1201.2 L1737.0 1201.5 L1740.0 1201.7 L1743.0 1201.9 L1746.0 1202.0 L1749.0 1202.2 L1752.0 1202.4 L1755.0 1202.6 L1757.9 1202.9 L1760.8 1203.4 L1763.7 1204.4 L1766.4 1205.8 L1769.2 1207.2 L1772.0 1208.6 L1774.8 1209.6 L1777.7 1210.0 L1780.6 1209.7 L1783.6 1208.9 L1786.6 1208.0 L1789.5 1207.5 L1792.1 1208.0 L1794.6 1209.8 L1797.1 1212.0 L1799.7 1213.6 L1802.5 1214.2 L1805.4 1214.8 L1808.5 1215.0 L1809.0 1215.0" stroke="#d95319" stroke-width="6.1" fill="none" stroke-linejoin="round" stroke-linecap="butt"/>
<g id="reddash" fill="#ff0000">
<rect x="280" y="28.3" width="50" height="10.6"/>
<rect x="364.5" y="28.3" width="45.0" height="10.6"/>
<rect x="443" y="28.3" width="44.5" height="10.6"/>
<rect x="521" y="28.3" width="45" height="10.6"/>
<rect x="280" y="28.3" width="10.8" height="22.5"/>
<rect x="280" y="86.5" width="10.8" height="45.2"/>
<rect x="280" y="165.2" width="10.8" height="45.2"/>
<rect x="280" y="243.8" width="10.8" height="45.2"/>
<rect x="280" y="322.5" width="10.8" height="45.2"/>
<rect x="280" y="401.1" width="10.8" height="45.2"/>
<rect x="280" y="479.8" width="10.8" height="45.2"/>
<rect x="280" y="558.4" width="10.8" height="45.2"/>
<rect x="280" y="637.0" width="10.8" height="45.2"/>
<rect x="280" y="715.7" width="10.8" height="45.2"/>
<rect x="280" y="794.3" width="10.8" height="45.2"/>
<rect x="280" y="873.0" width="10.8" height="45.2"/>
<rect x="280" y="951.6" width="10.8" height="45.2"/>
<rect x="280" y="1030.3" width="10.8" height="45.2"/>
<rect x="280" y="1109.0" width="10.8" height="45.2"/>
<rect x="280" y="1187.6" width="10.8" height="45.2"/>
<rect x="280" y="1266.3" width="10.8" height="45.2"/>
<rect x="580" y="47.5" width="10.6" height="45.2"/>
<rect x="580" y="126.5" width="10.6" height="45.2"/>
<rect x="580" y="205.4" width="10.6" height="45.2"/>
<rect x="580" y="284.4" width="10.6" height="45.2"/>
<rect x="580" y="363.3" width="10.6" height="45.2"/>
<rect x="580" y="442.2" width="10.6" height="45.2"/>
<rect x="580" y="521.2" width="10.6" height="45.2"/>
<rect x="580" y="600.2" width="10.6" height="45.2"/>
<rect x="580" y="679.1" width="10.6" height="45.2"/>
<rect x="580" y="758.1" width="10.6" height="45.2"/>
<rect x="580" y="837.0" width="10.6" height="45.2"/>
<rect x="580" y="916.0" width="10.6" height="45.2"/>
<rect x="580" y="994.9" width="10.6" height="45.2"/>
<rect x="580" y="1073.9" width="10.6" height="45.2"/>
<rect x="580" y="1152.8" width="10.6" height="45.2"/>
<rect x="580" y="1231.8" width="10.6" height="45.2"/>
<rect x="580" y="1305" width="10.6" height="18"/>
<rect x="313" y="1312.6" width="45.75" height="10.5"/>
<rect x="392" y="1312.6" width="46" height="10.5"/>
<rect x="470.5" y="1312.6" width="46.25" height="10.5"/>
<rect x="550" y="1312.6" width="40.60000000000002" height="10.5"/>
</g>
<rect x="331.7" y="32.6" width="670.3" height="1285.4" fill="rgb(160,160,160)" fill-opacity="0.3"/>
<rect x="331.7" y="32.6" width="190.8" height="1285.4" fill="rgb(160,160,160)" fill-opacity="0.3"/>
<rect x="1066.3" y="35" width="739.7" height="744.4" fill="#ffffff"/>
<rect x="1065.4" y="33" width="1.9" height="747.3" fill="#333"/>
<rect x="1065.4" y="778.5" width="740.6" height="1.8" fill="#222"/>
<rect x="1803.4" y="33" width="4.6" height="747.0" fill="#444"/>
<clipPath id="ic"><rect x="1064" y="32.2" width="744.0" height="756"/></clipPath>
<g clip-path="url(#ic)">
<path d="M1066 777.2 L1157 777.2" stroke="#b24850" stroke-width="5" fill="none"/>
<path d="M1155.0 779.0 L1158.0 778.7 L1160.6 777.8 L1162.6 775.5 L1163.7 772.8 L1164.7 769.9 L1165.6 767.0 L1166.4 764.2 L1166.8 761.2 L1167.3 758.2 L1167.8 755.3 L1168.2 752.3 L1168.7 749.3 L1169.2 746.4 L1169.6 743.4 L1170.1 740.4 L1170.5 737.5 L1171.0 734.5 L1171.5 731.6 L1171.9 728.6 L1172.4 725.6 L1172.8 722.7 L1173.3 719.7 L1173.7 716.7 L1174.1 713.7 L1174.5 710.8 L1175.0 707.8 L1175.4 704.8 L1175.8 701.9 L1176.2 698.9 L1176.7 695.9 L1177.1 693.0 L1177.5 690.0 L1177.9 687.0 L1178.3 684.0 L1178.7 681.1 L1179.1 678.1 L1179.4 675.1 L1179.8 672.1 L1180.2 669.2 L1180.6 666.2 L1181.0 663.2 L1181.4 660.2 L1181.8 657.3 L1182.2 654.3 L1182.5 651.3 L1182.9 648.3 L1183.3 645.4 L1183.7 642.4 L1184.1 639.4 L1184.5 636.4 L1184.9 633.5 L1185.4 630.5 L1185.9 627.6 L1186.4 624.6 L1187.0 621.7 L1187.5 618.7 L1188.1 615.8 L1188.6 612.8 L1189.1 609.9 L1189.7 606.9 L1190.2 604.0 L1190.8 601.0 L1191.3 598.1 L1192.0 595.1 L1192.7 592.2 L1193.5 589.3 L1194.2 586.4 L1195.0 583.5 L1195.7 580.6 L1196.5 577.7 L1197.2 574.8 L1197.8 571.9 L1198.4 568.9 L1198.9 566.0 L1199.4 563.0 L1200.0 560.0 L1200.5 557.1 L1201.0 554.1 L1201.5 551.2 L1202.1 548.2 L1202.6 545.3 L1203.1 542.3 L1203.7 539.4 L1204.2 536.4 L1204.7 533.5 L1205.3 530.5 L1205.8 527.6 L1206.3 524.6 L1206.9 521.7 L1207.5 518.7 L1208.1 515.8 L1208.7 512.8 L1209.3 509.9 L1209.9 507.0 L1210.4 504.0 L1211.0 501.1 L1211.6 498.1 L1212.2 495.2 L1212.8 492.3 L1213.4 489.3 L1214.0 486.4 L1214.8 483.5 L1215.5 480.6 L1216.2 477.7 L1216.9 474.7 L1217.7 471.8 L1218.4 468.9 L1219.1 466.0 L1219.8 463.1 L1220.7 460.2 L1221.5 457.3 L1222.4 454.5 L1223.3 451.6 L1224.1 448.7 L1225.0 445.9 L1225.9 443.0 L1226.7 440.1 L1227.6 437.2 L1228.4 434.4 L1229.3 431.5 L1230.2 428.6 L1231.0 425.7 L1231.9 422.9 L1232.8 420.0 L1233.6 417.1 L1234.5 414.2 L1235.3 411.4 L1236.0 408.4 L1236.7 405.5 L1237.5 402.6 L1238.2 399.7 L1238.9 396.8 L1239.7 393.9 L1240.4 391.0 L1241.1 388.1 L1241.8 385.2 L1242.6 382.3 L1243.3 379.3 L1244.0 376.4 L1244.7 373.5 L1245.5 370.6 L1246.2 367.7 L1246.9 364.8 L1247.7 361.9 L1248.7 359.0 L1249.6 356.2 L1250.5 353.4 L1251.5 350.5 L1252.4 347.7 L1253.4 344.8 L1254.3 342.0 L1255.3 339.1 L1256.2 336.3 L1257.2 333.4 L1258.1 330.6 L1259.1 327.7 L1260.0 324.9 L1260.9 322.0 L1261.8 319.1 L1262.6 316.3 L1263.5 313.4 L1264.3 310.5 L1265.2 307.7 L1266.1 304.8 L1266.9 301.9 L1267.8 299.0 L1268.7 296.2 L1269.5 293.3 L1270.4 290.4 L1271.2 287.5 L1272.1 284.7 L1273.0 281.8 L1273.8 278.9 L1274.7 276.0 L1275.9 273.3 L1277.3 270.7 L1278.7 268.0 L1280.2 265.4 L1281.6 262.7 L1283.2 260.2 L1285.2 258.0 L1287.2 255.8 L1288.7 253.3 L1289.9 250.5 L1291.1 247.1 L1292.2 245.3 L1293.4 242.4 L1294.6 239.6 L1295.7 235.6 L1296.9 233.9 L1298.4 231.6 L1300.2 228.5 L1301.9 226.5 L1303.7 222.9 L1305.5 222.0 L1307.3 218.9 L1309.4 217.6 L1311.5 214.1 L1313.6 213.2 L1315.7 210.6 L1317.8 209.0 L1319.3 205.5 L1320.8 203.1 L1322.3 201.9 L1323.8 197.8 L1325.3 195.2 L1326.8 192.8 L1328.3 189.9 L1329.8 188.4 L1331.3 186.1 L1332.8 182.2 L1334.3 179.1 L1336.2 178.3 L1338.4 176.3 L1340.7 174.2 L1343.0 172.4 L1345.2 169.3 L1347.1 167.4 L1349.0 164.5 L1350.9 162.2 L1352.9 161.1 L1354.8 157.9 L1356.7 157.1 L1358.7 153.8 L1360.9 151.3 L1363.0 149.9 L1365.0 148.2 L1365.7 144.7 L1366.3 140.9 L1367.0 138.7 L1367.6 136.3 L1368.3 132.5 L1368.9 129.4 L1369.6 127.4 L1370.7 124.2 L1372.4 121.1 L1374.2 119.1 L1375.9 116.4 L1377.7 114.5 L1379.5 112.0 L1382.1 111.5 L1385.0 110.8 L1387.8 108.8 L1389.9 107.6 L1391.9 105.6 L1393.9 103.2 L1395.9 101.3 L1397.9 98.3 L1399.9 95.8 L1402.8 95.9 L1405.7 94.0 L1408.5 92.6 L1411.4 93.3 L1413.3 90.5 L1414.7 88.0 L1416.0 84.8 L1417.4 82.1 L1418.7 79.5 L1420.1 77.3 L1423.0 76.8 L1425.8 74.6 L1428.7 75.3 L1431.6 73.4 L1434.5 73.1 L1437.5 73.9 L1440.5 73.4 L1443.5 72.5 L1446.3 73.3 L1448.8 70.4 L1451.4 69.3 L1453.9 67.7 L1455.0 70.9 L1456.0 72.8 L1457.1 76.3 L1458.1 78.2 L1459.2 82.0 L1460.2 83.9 L1461.8 83.0 L1463.5 81.7 L1465.2 78.5 L1467.0 75.9 L1468.7 74.5 L1470.9 71.5 L1473.1 68.9 L1475.3 67.7 L1477.6 64.8 L1479.8 63.9 L1482.0 62.0 L1484.4 59.3 L1486.9 57.6 L1489.4 56.4 L1492.0 54.6 L1494.5 52.5 L1497.0 51.6 L1499.5 48.7 L1502.0 47.8 L1504.4 46.1 L1506.9 44.5 L1509.4 43.1 L1511.9 40.6 L1514.4 39.8 L1516.8 37.8 L1519.6 36.9 L1522.5 36.9 L1525.5 37.3 L1528.5 38.5 L1531.5 38.2 L1534.4 38.9 L1537.3 38.5 L1540.1 37.5 L1543.0 36.8 L1545.8 35.0 L1548.7 33.9 L1551.7 34.9 L1554.7 34.4 L1557.7 34.7 L1560.7 34.1 L1563.7 34.6 L1566.7 34.3 L1569.7 34.2 L1572.7 34.0 L1575.7 33.8 L1578.7 33.6 L1581.4 34.6 L1584.0 36.5 L1586.6 37.3 L1589.2 39.9 L1591.8 40.5 L1594.4 42.6 L1597.0 43.6 L1599.8 44.2 L1602.8 45.6 L1605.8 44.7 L1608.8 44.5 L1611.7 45.1 L1614.1 47.1 L1616.5 50.1 L1618.9 51.0 L1621.3 53.1 L1623.7 53.9 L1626.4 55.8 L1629.4 56.2 L1632.4 57.0 L1635.3 55.9 L1638.3 56.8 L1641.3 56.8 L1644.2 56.8 L1646.6 59.1 L1649.0 60.7 L1651.4 61.5 L1654.1 64.1 L1657.1 64.4 L1660.0 64.3 L1663.0 64.2 L1666.0 66.0 L1669.0 65.8 L1671.8 66.9 L1674.4 68.7 L1676.9 69.2 L1679.5 71.5 L1682.1 72.5 L1684.8 73.9 L1687.5 75.2 L1690.1 76.6 L1692.8 78.5 L1695.5 79.4 L1698.2 80.6 L1701.2 80.9 L1704.1 81.7 L1707.1 81.4 L1710.1 82.0 L1713.0 82.7 L1716.0 82.8 L1719.0 83.4 L1722.0 83.6 L1724.5 86.2 L1726.6 88.0 L1728.7 89.7 L1730.8 91.6 L1733.1 94.6 L1736.0 94.4 L1738.9 95.0 L1741.8 96.1 L1744.6 96.9 L1747.5 98.2 L1750.3 98.7 L1753.0 101.1 L1755.6 101.0 L1758.4 102.7 L1761.4 101.6 L1764.4 102.9 L1767.4 101.6 L1770.4 101.5 L1773.4 101.8 L1776.3 102.0 L1779.2 101.7 L1782.0 103.0 L1784.9 103.4 L1787.8 105.1 L1790.6 105.8 L1793.5 106.6 L1796.4 106.2 L1799.4 105.8 L1802.3 105.0 L1805.2 105.1 L1806.0 105.5" stroke="#0000ff" stroke-width="6.6" fill="none" stroke-linejoin="round"/>
<path d="M1065.5 779.6 L1160 779.6" stroke="#d95319" stroke-width="7.4" fill="none"/>
<path d="M1158.0 779.5 L1161.1 779.3 L1163.8 778.5 L1166.3 776.7 L1168.5 774.6 L1170.2 772.2 L1171.4 769.5 L1172.4 766.7 L1173.3 763.8 L1174.1 760.8 L1174.9 757.9 L1175.7 755.0 L1176.5 752.1 L1177.3 749.2 L1178.0 746.3 L1178.8 743.4 L1179.5 740.5 L1180.2 737.6 L1180.9 734.6 L1181.6 731.7 L1182.2 728.8 L1182.9 725.9 L1183.5 722.9 L1184.1 720.0 L1184.7 717.1 L1185.3 714.1 L1185.9 711.2 L1186.5 708.2 L1187.1 705.3 L1187.7 702.3 L1188.2 699.4 L1188.8 696.4 L1189.3 693.5 L1189.9 690.5 L1190.4 687.6 L1191.0 684.6 L1191.5 681.7 L1192.0 678.7 L1192.5 675.8 L1193.1 672.8 L1193.6 669.9 L1194.1 666.9 L1194.6 664.0 L1195.0 661.0 L1195.5 658.0 L1196.0 655.1 L1196.5 652.1 L1197.0 649.2 L1197.6 646.2 L1198.1 643.2 L1198.6 640.3 L1199.1 637.3 L1199.7 634.4 L1200.2 631.4 L1200.8 628.5 L1201.3 625.5 L1201.9 622.6 L1202.5 619.7 L1203.1 616.7 L1203.7 613.8 L1204.3 610.8 L1204.9 607.9 L1205.5 605.0 L1206.1 602.0 L1206.7 599.1 L1207.3 596.1 L1207.9 593.2 L1208.5 590.3 L1209.0 587.3 L1209.6 584.4 L1210.2 581.4 L1210.8 578.5 L1211.4 575.5 L1211.9 572.6 L1212.5 569.6 L1213.0 566.7 L1213.6 563.7 L1214.1 560.8 L1214.7 557.8 L1215.3 554.9 L1215.8 552.0 L1216.4 549.0 L1217.0 546.1 L1217.6 543.1 L1218.2 540.2 L1218.8 537.3 L1219.4 534.3 L1220.1 531.4 L1220.7 528.5 L1221.3 525.5 L1222.0 522.6 L1222.7 519.7 L1223.3 516.7 L1224.0 513.8 L1224.7 510.9 L1225.5 508.0 L1226.2 505.1 L1226.9 502.2 L1227.7 499.3 L1228.5 496.4 L1229.3 493.5 L1230.2 490.6 L1231.1 487.8 L1231.9 484.9 L1232.8 482.0 L1233.7 479.2 L1234.6 476.3 L1235.5 473.4 L1236.3 470.6 L1237.2 467.7 L1238.1 464.8 L1238.9 461.9 L1239.8 459.1 L1240.6 456.2 L1241.5 453.3 L1242.4 450.4 L1243.2 447.6 L1244.1 444.7 L1244.9 441.8 L1245.8 438.9 L1246.6 436.0 L1247.5 433.2 L1248.3 430.3 L1249.2 427.4 L1250.1 424.6 L1251.1 421.7 L1252.1 418.9 L1253.1 416.1 L1254.1 413.3 L1255.1 410.4 L1256.1 407.6 L1257.1 404.8 L1258.1 401.9 L1259.0 399.1 L1259.9 396.2 L1260.8 393.4 L1261.6 390.5 L1262.5 387.6 L1263.3 384.7 L1264.1 381.8 L1265.0 379.0 L1265.9 376.1 L1266.8 373.2 L1267.8 370.4 L1268.8 367.6 L1269.8 364.8 L1270.8 361.9 L1271.9 359.1 L1272.9 356.3 L1273.9 353.4 L1274.8 350.6 L1275.7 347.8 L1276.6 344.9 L1277.5 342.0 L1278.3 339.1 L1279.2 336.3 L1280.0 333.4 L1280.9 330.5 L1281.7 327.6 L1282.6 324.7 L1283.4 321.9 L1284.3 319.0 L1285.1 316.1 L1285.9 313.2 L1286.8 310.3 L1287.6 307.5 L1288.5 304.6 L1289.4 301.7 L1290.4 298.9 L1291.4 296.1 L1292.5 293.3 L1293.6 290.5 L1294.7 287.7 L1295.9 285.0 L1297.0 282.2 L1298.2 279.4 L1299.3 276.6 L1300.5 273.9 L1301.6 271.1 L1302.6 268.3 L1303.7 265.5 L1304.8 262.7 L1305.9 259.9 L1307.0 257.1 L1308.1 254.3 L1309.3 251.5 L1310.5 248.8 L1311.8 246.1 L1313.0 243.4 L1314.3 240.6 L1315.6 237.9 L1317.0 235.2 L1318.4 232.6 L1319.8 229.9 L1321.2 227.3 L1322.7 224.7 L1324.2 222.1 L1325.8 219.6 L1327.4 217.0 L1329.1 214.5 L1330.7 212.1 L1332.4 209.6 L1334.2 207.1 L1335.9 204.6 L1337.6 202.2 L1339.3 199.7 L1341.0 197.3 L1342.8 194.8 L1344.5 192.4 L1346.3 190.0 L1348.1 187.6 L1349.9 185.2 L1351.7 182.8 L1353.5 180.4 L1355.3 178.0 L1357.2 175.6 L1359.0 173.3 L1360.9 170.9 L1362.7 168.5 L1364.6 166.2 L1366.4 163.8 L1368.3 161.5 L1370.2 159.1 L1372.0 156.7 L1373.8 154.4 L1375.7 152.0 L1377.5 149.6 L1379.4 147.3 L1381.3 144.9 L1383.2 142.6 L1385.1 140.3 L1387.0 138.0 L1389.0 135.8 L1391.0 133.5 L1393.0 131.3 L1395.0 129.1 L1397.1 126.9 L1399.1 124.7 L1401.2 122.5 L1403.3 120.4 L1405.4 118.3 L1407.6 116.2 L1409.7 114.1 L1411.9 112.1 L1414.2 110.1 L1416.4 108.1 L1418.7 106.1 L1420.9 104.1 L1423.2 102.2 L1425.5 100.2 L1427.7 98.2 L1430.0 96.2 L1432.2 94.2 L1434.4 92.2 L1436.7 90.1 L1438.9 88.2 L1441.2 86.2 L1443.6 84.4 L1446.1 82.8 L1448.6 81.2 L1451.2 79.6 L1453.7 77.9 L1456.1 76.1 L1458.4 74.2 L1460.8 72.4 L1463.2 70.6 L1465.7 69.0 L1468.3 67.5 L1470.9 66.1 L1473.6 64.7 L1476.3 63.3 L1478.9 61.8 L1481.4 60.2 L1484.0 58.7 L1486.7 57.3 L1489.4 56.1 L1492.2 54.9 L1495.0 53.9 L1497.8 52.9 L1500.7 51.9 L1503.5 51.0 L1506.4 50.1 L1509.3 49.3 L1512.2 48.6 L1515.1 47.9 L1518.0 47.3 L1521.0 46.7 L1523.9 46.2 L1526.9 45.6 L1529.8 45.0 L1532.8 44.5 L1535.7 43.8 L1538.6 43.1 L1541.5 42.3 L1544.5 41.6 L1547.4 40.8 L1550.3 40.1 L1553.2 39.5 L1556.2 39.1 L1559.1 38.8 L1562.1 38.5 L1565.1 38.2 L1568.1 37.9 L1571.1 37.7 L1574.1 37.5 L1577.1 37.4 L1580.1 37.4 L1583.1 37.4 L1586.1 37.5 L1589.1 37.5 L1592.1 37.6 L1595.1 37.7 L1598.1 37.8 L1601.1 37.9 L1604.1 38.0 L1607.1 38.2 L1610.1 38.3 L1613.1 38.5 L1616.1 38.6 L1619.1 38.8 L1622.1 39.0 L1625.1 39.3 L1628.1 39.5 L1631.1 39.8 L1634.0 40.1 L1637.0 40.5 L1640.0 40.8 L1643.0 41.2 L1645.9 41.6 L1648.9 42.0 L1651.9 42.5 L1654.8 43.0 L1657.8 43.6 L1660.7 44.2 L1663.7 44.8 L1666.6 45.5 L1669.5 46.2 L1672.4 46.9 L1675.3 47.6 L1678.2 48.5 L1681.1 49.3 L1683.9 50.2 L1686.8 51.1 L1689.7 52.1 L1692.5 52.9 L1695.4 53.8 L1698.3 54.6 L1701.2 55.5 L1704.0 56.3 L1706.9 57.2 L1709.8 58.0 L1712.7 58.9 L1715.5 59.9 L1718.3 60.9 L1721.1 61.9 L1723.9 63.0 L1726.7 64.2 L1729.5 65.3 L1732.2 66.5 L1735.0 67.6 L1737.8 68.7 L1740.6 69.8 L1743.4 70.8 L1746.3 71.8 L1749.1 72.8 L1751.9 73.8 L1754.8 74.7 L1757.6 75.7 L1760.4 76.7 L1763.3 77.7 L1766.1 78.7 L1768.9 79.7 L1771.7 80.8 L1774.6 81.8 L1777.4 82.8 L1780.2 83.8 L1783.1 84.7 L1785.9 85.6 L1788.8 86.4 L1791.7 87.2 L1794.6 87.9 L1797.5 88.6 L1800.5 89.3 L1803.4 90.0 L1806.0 90.5" stroke="#d95319" stroke-width="6.6" fill="none" stroke-linejoin="round"/>
</g>
<rect x="1373.7" y="860" width="150" height="7.5" fill="#0000ff"/>
<rect x="1373.7" y="939.5" width="150" height="7.5" fill="#d95319"/>
<text font-family="'Liberation Sans', Arial, sans-serif" font-size="58.5" fill="#000" x="1534.3" y="886.2">gamma</text>
<text font-family="'Liberation Sans', Arial, sans-serif" font-size="58.5" fill="#000" x="1534.5" y="965">neutron</text>
<g fill="#000">
<rect x="337" y="936.2" width="666" height="10.2"/>
<rect x="323.3" y="906.3" width="10.8" height="64.7"/>
<rect x="997.2" y="906.3" width="10.8" height="64.9"/>
<polygon points="336,1040.5 522,1040.5 522,1050.6 336,1053"/>
<rect x="331.8" y="1013" width="10.7" height="64.5"/>
<rect x="517" y="1013" width="11" height="64.7"/>
</g>
<text font-family="'Liberation Serif', 'Times New Roman', serif" font-size="65" fill="#000" transform="translate(661.6 1016.6) scale(0.94 1)">Q</text>
<text font-family="'Liberation Serif', 'Times New Roman', serif" font-size="40.3" fill="#000" x="704.6" y="1028">total</text>
<text font-family="'Liberation Serif', 'Times New Roman', serif" font-size="65" fill="#000" transform="translate(386.6 1138.2) scale(0.94 1)">Q</text>
<text font-family="'Liberation Serif', 'Times New Roman', serif" font-size="40.3" fill="#000" x="429.6" y="1147.8">prompt</text>
</svg>
</body></html>
